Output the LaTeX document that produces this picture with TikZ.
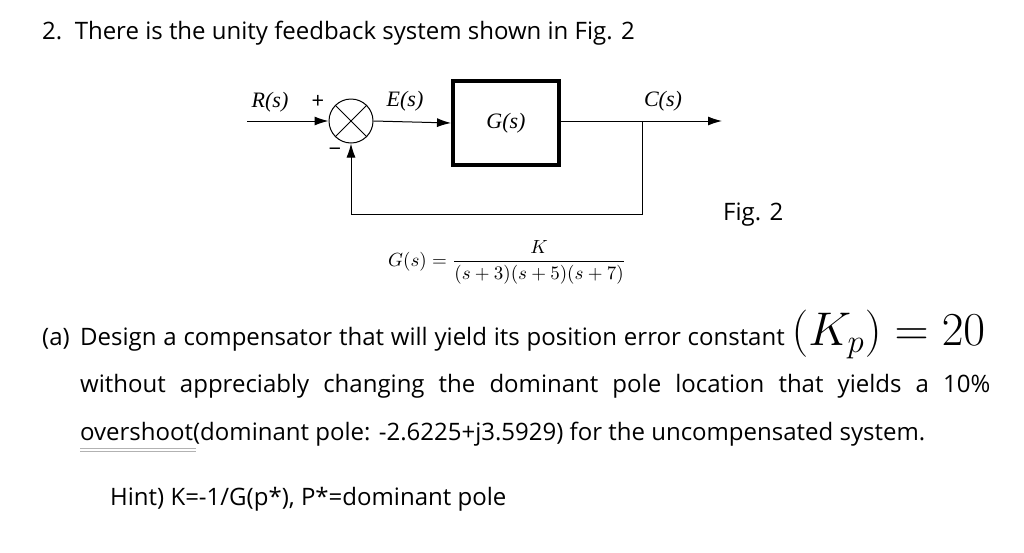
\documentclass[tikz,border=0pt]{standalone}
\usepackage{amsmath}
\usepackage{fontspec}
\setmainfont{Open Sans}
\newfontfamily\serifb{Liberation Serif}
\usetikzlibrary{arrows.meta}
\begin{document}
\begin{tikzpicture}[x=1pt,y=-1pt,
  sig/.style={-{Latex[length=14pt,width=9pt]},line width=1pt},
  ln/.style={line width=1pt},
  bl/.style={font=\serifb\fontsize{22}{22}\selectfont\itshape},
  tx/.style={anchor=base west,inner sep=0,font=\fontsize{24}{28}\selectfont}]
\useasboundingbox (0,0) rectangle (1024,552);
\node[tx] (title) at (42,39) {2.\ \ There is the unity feedback system shown in Fig. 2};
% block diagram
\coordinate (in) at (247,121);
\node[circle,draw,line width=1pt,minimum size=44pt,inner sep=0] (sum) at (351,121) {};
\draw[line width=1pt] (sum.north east)--(sum.south west) (sum.north west)--(sum.south east);
\node[draw,line width=4pt,minimum width=106pt,minimum height=84pt] (G) at (506,123) {};
\node[bl] (Gl) at (506,123) {G(s)};
\coordinate (br) at (642,121);
\coordinate (out) at (722,121);
\coordinate (fb) at (642,214);
\coordinate (fb2) at (351,214);
\draw[sig] (in) -- (sum.west);
\draw[sig] (sum.east) -- (G.west);
\draw[ln] (G.east |- br) -- (br);
\draw[sig] (br) -- (out);
\draw[sig] (br) -- (fb) -- (fb2) -- (sum.south);
\node[bl] (R) at (270,102) {R(s)};
\node[font=\fontsize{22}{22}\selectfont] (p) at (318,102) {+};
\node[font=\fontsize{22}{22}\selectfont] (m) at (335,152) {\textminus};
\node[bl] (E) at (405,101) {E(s)};
\node[bl] (C) at (663,101) {C(s)};
\node[tx] (fig) at (723,220) {Fig. 2};
\node[anchor=west,inner sep=0] (eq) at (388,262)
  {\scalebox{1.9}{$G(s)=\dfrac{K}{(s+3)(s+5)(s+7)}$}};
% text
\node[tx] (a) at (42,345) {(a)};
\node[tx] (l1) at (80,345) {\makebox[905pt][s]{Design a compensator that will yield its position error constant \scalebox{1.9}{$(K_p)=20$}}};
\node[tx] (l2) at (80,392) {\makebox[910pt][s]{without appreciably changing the dominant pole location that yields a 10\%}};
\node[tx] (l3) at (80,440) {overshoot(dominant pole: -2.6225+j3.5929) for the uncompensated system.};
\draw[gray!60,line width=0.6pt] (80,448)--(196,448) (80,451)--(196,451);
\node[tx] (hint) at (110,505) {Hint) K=-1/G(p*), P*=dominant pole};
\end{tikzpicture}
\end{document}
